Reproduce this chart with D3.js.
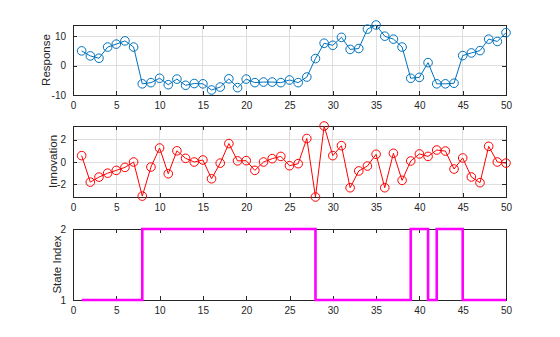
<!DOCTYPE html>
<html>
<head>
<meta charset="utf-8">
<script src="https://cdn.jsdelivr.net/npm/d3@7"></script>
<style>
  html, body { margin: 0; padding: 0; background: #fff; }
  svg { display: block; font-family: "Liberation Sans", Arial, Helvetica, sans-serif; }
</style>
</head>
<body>
<svg id="chart" width="560" height="337"></svg>
<script>
// Time index 1..50
const timeSteps = d3.range(1, 51);

// Observed response
const response = [
  5.0, 3.3, 2.5, 6.3, 7.3, 8.4, 6.3, -6.2, -5.8, -4.3,
  -6.5, -4.6, -6.7, -6.1, -6.2, -8.3, -7.3, -4.5, -7.5, -4.6,
  -5.8, -5.6, -5.6, -5.8, -4.9, -5.8, -3.9, 2.4, 7.6, 6.9,
  9.6, 5.5, 5.8, 12.4, 13.8, 10.0, 9.0, 6.3, -4.3, -4.0,
  1.0, -6.2, -6.2, -6.0, 3.4, 4.3, 5.1, 9.0, 8.2, 11.2
];

// Innovation sequence
const innovation = [
  0.57, -1.8, -1.35, -1.0, -0.75, -0.48, 0.0, -3.05, -0.45, 1.25,
  -1.05, 1.0, 0.33, 0.0, 0.18, -1.5, -0.1, 1.65, 0.1, 0.12,
  -0.75, 0.0, 0.3, 0.5, -0.33, -0.15, 2.1, -3.13, 3.22, 0.57,
  1.46, -2.3, -0.8, -0.36, 0.69, -2.3, 0.78, -1.64, 0.09, 0.72,
  0.5, 1.07, 0.98, -0.63, 0.36, -1.34, -1.85, 1.40, 0.0, -0.1
];

// Regime / state index
const stateIndex = [
  1, 1, 1, 1, 1, 1, 1, 2, 2, 2,
  2, 2, 2, 2, 2, 2, 2, 2, 2, 2,
  2, 2, 2, 2, 2, 2, 2, 1, 1, 1,
  1, 1, 1, 1, 1, 1, 1, 1, 2, 2,
  1, 2, 2, 2, 1, 1, 1, 1, 1, 1
];

const xTicks = [0, 5, 10, 15, 20, 25, 30, 35, 40, 45, 50];
const responseTicks = [-10, 0, 10];
const innovationTicks = [-2, 0, 2];
const stateTicks = [1, 2];

const svg = d3.select("#chart");
const left = 73, right = 506;
const axisColor = "#262626";
const gridColor = "#dedede";
const tickLen = 4;
const intFmt = d => String(d);

const x = d3.scaleLinear().domain([0, 50]).range([left, right]);

function panel(opts) {
  const { top, bottom, yDomain, yTicks, label, grid } = opts;
  const y = d3.scaleLinear().domain(yDomain).range([bottom, top]);
  const g = svg.append("g");

  if (grid) {
    g.append("g").selectAll("line").data(xTicks.filter(t => t > 0 && t < 50)).join("line")
      .attr("x1", d => x(d)).attr("x2", d => x(d))
      .attr("y1", top).attr("y2", bottom)
      .attr("stroke", gridColor).attr("stroke-width", 1).attr("shape-rendering", "crispEdges");
    g.append("g").selectAll("line").data(yTicks.filter(t => y(t) > top + 1 && y(t) < bottom - 1)).join("line")
      .attr("x1", left).attr("x2", right)
      .attr("y1", d => y(d)).attr("y2", d => y(d))
      .attr("stroke", gridColor).attr("stroke-width", 1).attr("shape-rendering", "crispEdges");
  }

  // Bottom axis with labels, inward ticks
  const xb = g.append("g").attr("transform", `translate(0,${bottom})`)
    .call(d3.axisBottom(x).tickValues(xTicks).tickFormat(intFmt).tickSizeInner(-tickLen).tickSizeOuter(0).tickPadding(7));
  // Top axis mirrored ticks
  const xt = g.append("g").attr("transform", `translate(0,${top})`)
    .call(d3.axisTop(x).tickValues(xTicks).tickSizeInner(-tickLen).tickSizeOuter(0).tickFormat(""));
  // Left axis with labels
  const yl = g.append("g").attr("transform", `translate(${left},0)`)
    .call(d3.axisLeft(y).tickValues(yTicks).tickFormat(intFmt).tickSizeInner(-tickLen).tickSizeOuter(0).tickPadding(7));
  // Right axis mirrored ticks
  const yr = g.append("g").attr("transform", `translate(${right},0)`)
    .call(d3.axisRight(y).tickValues(yTicks).tickSizeInner(-tickLen).tickSizeOuter(0).tickFormat(""));

  [xb, xt, yl, yr].forEach(a => {
    a.select(".domain").remove();
    a.selectAll("line").attr("stroke", axisColor).attr("shape-rendering", "crispEdges");
    a.selectAll("text").attr("fill", axisColor).style("font-size", "10px")
      .style("font-family", '"Liberation Sans", Arial, sans-serif');
  });

  // Box
  g.append("rect").attr("x", left).attr("y", top)
    .attr("width", right - left).attr("height", bottom - top)
    .attr("fill", "none").attr("stroke", axisColor).attr("stroke-width", 1)
    .attr("shape-rendering", "crispEdges");

  // Y label
  g.append("text")
    .attr("transform", `translate(${opts.labelX},${(top + bottom) / 2}) rotate(-90)`)
    .attr("text-anchor", "middle")
    .attr("fill", axisColor)
    .style("font-size", "11.5px")
    .text(label);

  return { g, y };
}

// Panel 1: Response
const p1 = panel({ top: 25, bottom: 95, yDomain: [-10, d3.max(response)], yTicks: responseTicks, label: "Response", grid: true, labelX: 50 });
const blue = "#0072BD";
p1.g.append("path").datum(timeSteps)
  .attr("fill", "none").attr("stroke", blue).attr("stroke-width", 1)
  .attr("d", d3.line().x(d => x(d)).y((d, i) => p1.y(response[i])));
p1.g.append("g").selectAll("circle").data(timeSteps).join("circle")
  .attr("cx", d => x(d)).attr("cy", (d, i) => p1.y(response[i])).attr("r", 4.3)
  .attr("fill", "none").attr("stroke", blue).attr("stroke-width", 1);

// Panel 2: Innovation
const p2 = panel({ top: 126, bottom: 197, yDomain: d3.extent(innovation), yTicks: innovationTicks, label: "Innovation", grid: true, labelX: 57 });
const red = "#FF0000";
p2.g.append("path").datum(timeSteps)
  .attr("fill", "none").attr("stroke", red).attr("stroke-width", 1)
  .attr("d", d3.line().x(d => x(d)).y((d, i) => p2.y(innovation[i])));
p2.g.append("g").selectAll("circle").data(timeSteps).join("circle")
  .attr("cx", d => x(d)).attr("cy", (d, i) => p2.y(innovation[i])).attr("r", 4.3)
  .attr("fill", "none").attr("stroke", red).attr("stroke-width", 1);

// Panel 3: State index (stairs)
const p3 = panel({ top: 229, bottom: 300, yDomain: [1, 2], yTicks: stateTicks, label: "State Index", grid: false, labelX: 61 });
p3.g.append("path").datum(timeSteps)
  .attr("fill", "none").attr("stroke", "#FF00FF").attr("stroke-width", 2.6)
  .attr("d", d3.line().curve(d3.curveStepAfter).x(d => x(d)).y((d, i) => p3.y(stateIndex[i])));
</script>
</body>
</html>
